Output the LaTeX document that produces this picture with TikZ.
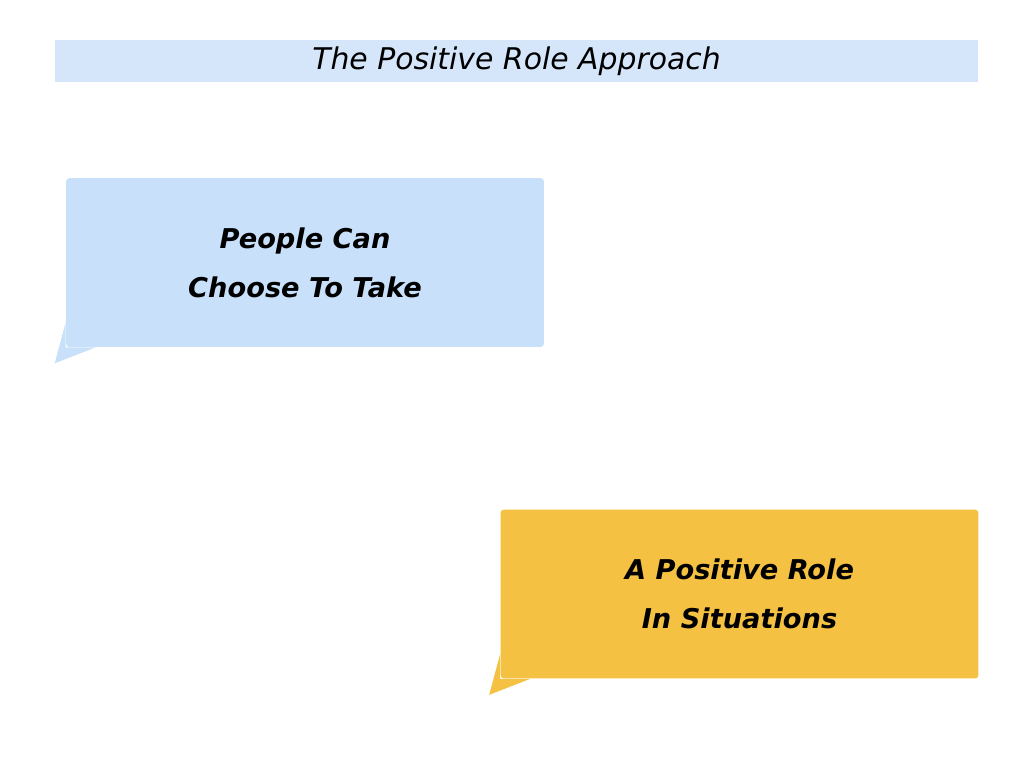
\documentclass[tikz,border=0pt]{standalone}
\usepackage{fontspec}
\setmainfont{DejaVu Sans}
\usetikzlibrary{positioning,calc}
\definecolor{titleblue}{HTML}{D6E6FA}
\definecolor{calloutblue}{HTML}{C9E0FA}
\definecolor{calloutgold}{HTML}{F4C142}
\begin{document}
\begin{tikzpicture}[
    x=0.02cm, y=-0.02cm,
    titlebar/.style={fill=titleblue, minimum width=18.46cm, minimum height=0.84cm, inner sep=0pt},
    callout/.style={rounded corners=2pt, minimum width=9.56cm, minimum height=3.38cm, inner sep=0pt, align=center, font=\bfseries\itshape\fontsize{15.5}{28}\selectfont}
]
    \useasboundingbox (0,0) rectangle (1024,768);

    % Title
    \node (title) [titlebar] at (516.5,61) {\itshape\fontsize{17}{20}\selectfont The Positive Role Approach};

    % Callouts
    \node (choose) [callout, fill=calloutblue] at (305,262.5) {People Can\\Choose To Take};
    \node (role) [callout, fill=calloutgold] at (739.5,594) {A Positive Role\\In Situations};

    % Tails
    \fill [calloutblue] ($(choose.south west)+(0,-25)$) -- ++(-11,41) -- ($(choose.south west)+(30,0)$) -- (choose.south west) -- cycle;
    \fill [calloutgold] ($(role.south west)+(0,-25)$) -- ++(-11,41) -- ($(role.south west)+(30,0)$) -- (role.south west) -- cycle;
\end{tikzpicture}
\end{document}
